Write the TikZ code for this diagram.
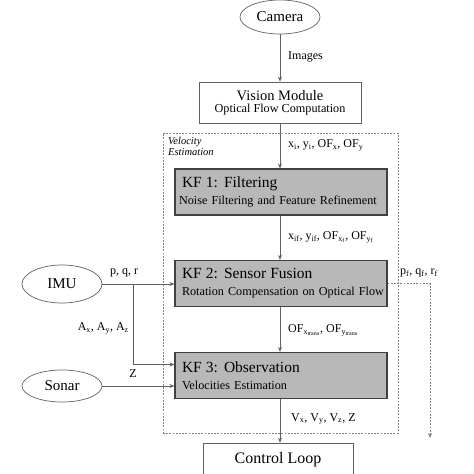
\documentclass[tikz,border=0pt]{standalone}
\usepackage{fontspec}
\setmainfont{Liberation Serif}
\usetikzlibrary{arrows, arrows.meta, calc, shapes, positioning}
\definecolor{lineGray}{gray}{0.38}
\definecolor{boxGray}{gray}{0.72}
\tikzstyle{sensor} = [draw=lineGray, ellipse, line width=0.7pt, minimum width=80pt, minimum height=34pt, inner sep=0pt, font=\fontsize{15}{17}\selectfont]
\tikzstyle{module} = [draw=lineGray, rectangle, line width=0.7pt, align=center, minimum width=162pt, minimum height=41pt, inner sep=2pt]
\tikzstyle{kfBox} = [draw=black!75, rectangle, fill=boxGray, line width=1.1pt, align=left, text width=206pt, minimum height=46pt, inner xsep=3pt, inner ysep=2pt, font=\fontsize{12.2}{17}\selectfont]
\tikzstyle{flowArrow} = [draw=lineGray, line width=0.7pt, -{Stealth[length=5pt,width=4pt]}]
\tikzstyle{dashLine} = [draw=lineGray!80, line width=0.6pt, dash pattern=on 1.8pt off 1.4pt]
\tikzstyle{sigLabel} = [font=\fontsize{12}{14}\selectfont, inner sep=0pt, anchor=west]
\newcommand{\sbs}[1]{\textsubscript{#1}}
\newcommand{\kftitle}[1]{{\fontsize{15.5}{17}\selectfont\hspace*{4pt}#1}}

\begin{document}
\begin{tikzpicture}[x=1pt, y=-1pt]
 				 \useasboundingbox (0,0) rectangle (474,474);

 				 % velocity estimation frame goes first, boxes sit on top
 				 \node[dashLine, rectangle, minimum width=235pt, minimum height=300pt, inner sep=0] (velo) at (280.5,283) {};
 				 \node[font=\itshape\fontsize{10.5}{11}\selectfont, align=left, anchor=north west, inner sep=0] (veloLabel) at (168,137) {Velocity\\Estimation};

 				 \node[sensor] (camera) at (280,17) {Camera};
 				 \node[module] (vision) at (280,102.5) {{\fontsize{14.5}{15}\selectfont Vision Module}\\{\fontsize{12.2}{15}\selectfont Optical Flow Computation}};
 				 \node[kfBox] (kf1) at (281,192) {\kftitle{KF 1: Filtering}\\\hspace*{1pt}Noise Filtering and Feature Refinement};
 				 \node[kfBox] (kf2) at (281,283.5) {\kftitle{KF 2: Sensor Fusion}\\\hspace*{4pt}Rotation Compensation on Optical Flow};
 				 \node[kfBox] (kf3) at (281,375.5) {\kftitle{KF 3: Observation}\\\hspace*{4pt}Velocities Estimation};
 				 \node[module, minimum width=150pt, minimum height=34pt, font=\fontsize{16}{18}\selectfont] (control) at (278,460) {Control Loop};
 				 \node[sensor, minimum height=38pt] (imu) at (62,284) {IMU};
 				 \node[sensor, minimum height=32pt] (sonar) at (62,386) {Sonar};

 				 \coordinate (branch) at (133,284); % IMU split
 				 \coordinate (kf3a) at ($(kf3.west)+(0,-11)$);
 				 \coordinate (pfCorner) at (430,283.5);
 				 \coordinate (pfEnd) at (430,438);

  				% main chain
  				\draw[flowArrow] (camera.south) -- (camera.south |- vision.north);
  				\draw[flowArrow] (vision.south) -- (vision.south |- kf1.north);
  				\draw[flowArrow] (kf1.south -| vision.south) -- (vision.south |- kf2.north);
  				\draw[flowArrow] (kf2.south -| vision.south) -- (vision.south |- kf3.north);
  				\draw[flowArrow] (kf3.south -| vision.south) -- (vision.south |- control.north);

  				% sensors
  				\draw[flowArrow] (imu.east) -- (imu.east -| kf2.west);
  				\draw[flowArrow] (branch) |- (kf3a);
  				\draw[flowArrow] (sonar.east) -- (sonar.east -| kf3.west);
  				\draw[dashLine, -{Stealth[length=5pt,width=4pt]}] (kf2.east) -- (pfCorner) -- (pfEnd);

  				% signal labels
  				\node[sigLabel] (lImages) at (288,57) {Images};
  				\node[sigLabel] (lOF) at (288,145) {x\sbs{i}, y\sbs{i}, OF\sbs{x}, OF\sbs{y}};
  				\node[sigLabel] (lOFf) at (288,237) {x\sbs{if}, y\sbs{if}, OF\sbs{x\sbs{f}}, OF\sbs{y\sbs{f}}};
  				\node[sigLabel] (lTrans) at (288,330) {OF\sbs{x\sbs{trans}}, OF\sbs{y\sbs{trans}}};
  				\node[sigLabel] (lVel) at (291,419) {V\sbs{x}, V\sbs{y}, V\sbs{z}, Z};
  				\node[sigLabel] (lPQR) at (110,273) {p, q, r};
  				\node[sigLabel, anchor=east] (lAcc) at (129,328) {A\sbs{x}, A\sbs{y}, A\sbs{z}};
  				\node[sigLabel, anchor=center] (lZ) at (133,374) {Z};
  				\node[sigLabel] (lPQRf) at (400,273) {p\sbs{f}, q\sbs{f}, r\sbs{f}};
			\end{tikzpicture}
\end{document}
